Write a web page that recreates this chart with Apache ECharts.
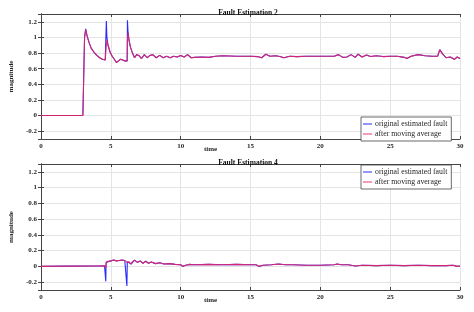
<!DOCTYPE html>
<html>
<head>
<meta charset="utf-8">
<script src="https://cdn.jsdelivr.net/npm/echarts@6/dist/echarts.min.js"></script>
<style>
  html, body { margin: 0; padding: 0; background: #fff; }
  #chart { width: 474px; height: 312px; }
</style>
</head>
<body>
<div id="chart"></div>
<script>
// ---- data ----
var xTicks = [0, 5, 10, 15, 20, 25, 30];

// Fault Estimation 2
var tTop = [0, 3.0, 3.05, 3.12, 3.2, 3.3, 3.45, 3.6, 3.8, 4.0, 4.2, 4.4, 4.6, 4.66, 4.68, 4.72, 4.8, 4.95, 5.1, 5.25,
  5.4, 5.55, 5.7, 5.85, 6.0, 6.1, 6.17, 6.19, 6.23, 6.3, 6.4, 6.55, 6.7, 6.85, 7.0, 7.2, 7.4, 7.6, 7.8, 8.0,
  8.25, 8.5, 8.75, 9.0, 9.25, 9.5, 9.75, 10.0, 10.25, 10.5, 10.75, 11.0, 11.5, 12.0, 12.5, 13.0, 14.0, 15.0, 15.5, 15.8,
  16.1, 16.4, 16.8, 17.1, 17.4, 17.8, 18.3, 19, 20, 21, 21.3, 21.6, 21.9, 22.2, 22.5, 22.7, 23.0, 23.3, 23.6, 24,
  24.5, 25, 25.5, 26.0, 26.2, 26.5, 27.0, 27.5, 28.0, 28.4, 28.55, 28.75, 29.0, 29.3, 29.6, 29.8, 30];
var avgTop = [0, 0, 0.02, 1.0, 1.1, 1.02, 0.93, 0.86, 0.81, 0.77, 0.74, 0.72, 0.71, 0.69, 0.9, 0.97, 0.9, 0.81, 0.76, 0.72,
  0.68, 0.7, 0.72, 0.71, 0.7, 0.72, 0.7, 0.95, 1.06, 0.97, 0.88, 0.8, 0.74, 0.78, 0.77, 0.73, 0.78, 0.74, 0.77, 0.78,
  0.74, 0.77, 0.74, 0.76, 0.74, 0.76, 0.75, 0.77, 0.75, 0.78, 0.74, 0.745, 0.75, 0.745, 0.76, 0.765, 0.76, 0.76, 0.755, 0.74,
  0.785, 0.76, 0.765, 0.755, 0.74, 0.76, 0.755, 0.76, 0.76, 0.76, 0.78, 0.745, 0.75, 0.78, 0.745, 0.785, 0.75, 0.775, 0.755, 0.765,
  0.755, 0.76, 0.76, 0.745, 0.73, 0.76, 0.78, 0.765, 0.76, 0.76, 0.84, 0.79, 0.74, 0.75, 0.72, 0.75, 0.73];
var origTop = [0, 0, 0.02, 1.0, 1.11, 1.02, 0.93, 0.86, 0.81, 0.77, 0.74, 0.72, 0.71, 0.7, 1.21, 1.0, 0.9, 0.81, 0.76, 0.72,
  0.68, 0.7, 0.72, 0.71, 0.7, 0.72, 0.7, 1.22, 1.08, 0.97, 0.88, 0.8, 0.74, 0.78, 0.77, 0.73, 0.78, 0.74, 0.77, 0.78,
  0.74, 0.77, 0.74, 0.76, 0.74, 0.76, 0.75, 0.77, 0.75, 0.78, 0.74, 0.745, 0.75, 0.745, 0.76, 0.765, 0.76, 0.76, 0.755, 0.74,
  0.785, 0.76, 0.765, 0.755, 0.74, 0.76, 0.755, 0.76, 0.76, 0.76, 0.78, 0.745, 0.75, 0.78, 0.745, 0.785, 0.75, 0.775, 0.755, 0.765,
  0.755, 0.76, 0.76, 0.745, 0.73, 0.76, 0.78, 0.765, 0.76, 0.76, 0.845, 0.79, 0.74, 0.75, 0.72, 0.75, 0.73];

// Fault Estimation 4
var tBot = [0, 2, 4, 4.55, 4.62, 4.64, 4.66, 4.7, 4.8, 5.0, 5.2, 5.4, 5.6, 5.8, 6.0, 6.1, 6.13, 6.15, 6.18, 6.3,
  6.45, 6.55, 6.7, 6.9, 7.1, 7.3, 7.5, 7.7, 7.9, 8.2, 8.5, 8.8, 9.2, 9.6, 10.0, 10.15, 10.3, 10.6, 11, 12,
  13, 14, 15, 15.4, 15.6, 15.9, 16.5, 17.0, 17.5, 18, 19, 20, 21, 21.2, 21.5, 22, 22.5, 23, 24, 25,
  26, 27, 28, 29, 29.5, 29.8, 30];
var avgBot = [0, 0.003, 0.005, 0.008, 0.0, -0.02, 0.03, 0.06, 0.06, 0.07, 0.08, 0.07, 0.075, 0.08, 0.075, 0.07, 0.06, 0.05, 0.07, 0.06,
  0.03, 0.06, 0.08, 0.05, 0.07, 0.04, 0.065, 0.04, 0.055, 0.035, 0.045, 0.03, 0.035, 0.025, 0.02, 0.0, 0.01, 0.025, 0.02, 0.025,
  0.02, 0.025, 0.02, 0.02, 0.0, 0.015, 0.02, 0.03, 0.02, 0.02, 0.015, 0.015, 0.02, 0.03, 0.02, 0.02, 0.005, 0.015, 0.01, 0.015,
  0.01, 0.015, 0.01, 0.01, 0.015, 0.0, 0.005];
var origBot = [0, 0.003, 0.005, 0.008, 0.0, -0.19, 0.05, 0.06, 0.06, 0.07, 0.08, 0.07, 0.075, 0.08, 0.075, 0.07, 0.06, -0.25, 0.06, 0.06,
  0.03, 0.01, 0.08, 0.05, 0.07, 0.04, 0.065, 0.04, 0.055, 0.035, 0.045, 0.03, 0.035, 0.025, 0.02, 0.0, 0.01, 0.025, 0.02, 0.025,
  0.02, 0.025, 0.02, 0.02, 0.0, 0.015, 0.02, 0.03, 0.02, 0.02, 0.015, 0.015, 0.02, 0.03, 0.02, 0.02, 0.005, 0.015, 0.01, 0.015,
  0.01, 0.015, 0.01, 0.01, 0.015, 0.0, 0.005];

var titles = ['Fault Estimation 2', 'Fault Estimation 4'];
var seriesNames = ['original estimated fault', 'after moving average'];

function zip(t, v) {
  return t.map(function (x, i) { return [x, v[i]]; });
}

var chart = echarts.init(document.getElementById('chart'));
var serif = 'Liberation Serif';
var txt = '#262626';
var blue = '#2a2aff';
var red = 'rgba(228,36,96,0.9)';

var grids = [
  { left: 27, right: 14, top: 14, height: 125 },
  { left: 27, right: 14, top: 164, height: 126 }
];

var xAxes = [], yAxes = [];
grids.forEach(function (g, i) {
  // main axes
  xAxes.push({
    type: 'value', gridIndex: i, min: 0, max: 30, interval: 5,
    axisLine: { show: true, onZero: false, lineStyle: { color: '#444', width: 1 } },
    axisTick: { inside: true, length: 3, lineStyle: { color: '#444' } },
    axisLabel: { color: txt, fontFamily: serif, fontWeight: 'bold', fontSize: 7, margin: 4 },
    splitLine: { show: true, lineStyle: { color: '#e4e4e4', width: 1 } }
  });
  yAxes.push({
    type: 'value', gridIndex: i, min: -0.3, max: 1.3, splitNumber: 8,
    name: 'magnitude', nameLocation: 'middle', nameGap: 16,
    nameTextStyle: { color: txt, fontFamily: serif, fontWeight: 'bold', fontSize: 7 },
    axisLine: { show: true, lineStyle: { color: '#444', width: 1 } },
    axisTick: { inside: true, length: 3, lineStyle: { color: '#444' } },
    axisLabel: { color: txt, fontFamily: serif, fontWeight: 'bold', fontSize: 7, margin: 4,
      showMinLabel: false, showMaxLabel: false },
    splitLine: { show: true, lineStyle: { color: '#e4e4e4', width: 1 } }
  });
  // box on top / right
  xAxes.push({
    type: 'value', gridIndex: i, position: 'top', min: 0, max: 30, interval: 5,
    axisLine: { show: true, onZero: false, lineStyle: { color: '#444', width: 1 } },
    axisTick: { inside: true, length: 3, lineStyle: { color: '#444' } },
    axisLabel: { show: false }, splitLine: { show: false }
  });
  yAxes.push({
    type: 'value', gridIndex: i, position: 'right', min: -0.3, max: 1.3, splitNumber: 8,
    axisLine: { show: true, lineStyle: { color: '#444', width: 1 } },
    axisTick: { inside: true, length: 3, lineStyle: { color: '#444' } },
    axisLabel: { show: false }, splitLine: { show: false }
  });
});

var lineBase = { type: 'line', showSymbol: false, symbol: 'none', animation: false };
var series = [
  Object.assign({}, lineBase, { name: seriesNames[0], xAxisIndex: 0, yAxisIndex: 0, data: zip(tTop, origTop),
    lineStyle: { color: blue, width: 1.1 }, itemStyle: { color: blue } }),
  Object.assign({}, lineBase, { name: seriesNames[1], xAxisIndex: 0, yAxisIndex: 0, data: zip(tTop, avgTop),
    lineStyle: { color: red, width: 1.1 }, itemStyle: { color: red } }),
  Object.assign({}, lineBase, { name: seriesNames[0], xAxisIndex: 2, yAxisIndex: 2, data: zip(tBot, origBot),
    lineStyle: { color: blue, width: 1.1 }, itemStyle: { color: blue } }),
  Object.assign({}, lineBase, { name: seriesNames[1], xAxisIndex: 2, yAxisIndex: 2, data: zip(tBot, avgBot),
    lineStyle: { color: red, width: 1.1 }, itemStyle: { color: red } })
];

function legendAt(top) {
  return {
    data: seriesNames, orient: 'vertical', left: 361, top: top,
    icon: 'rect', itemWidth: 9, itemHeight: 1, itemGap: 2,
    padding: [3, 4, 3, 2], borderColor: '#444', borderWidth: 0.8, backgroundColor: '#fff',
    textStyle: { color: txt, fontFamily: serif, fontSize: 7.8, padding: [0, 0, 0, -2] },
    selectedMode: false
  };
}

var option = {
  backgroundColor: '#fff',
  animation: false,
  title: [
    { text: titles[0], left: 243, top: 4, textAlign: 'center',
      textStyle: { fontFamily: serif, fontWeight: 'bold', fontSize: 7.5, color: '#111' } },
    { text: titles[1], left: 243, top: 154, textAlign: 'center',
      textStyle: { fontFamily: serif, fontWeight: 'bold', fontSize: 7.5, color: '#111' } }
  ],
  legend: [legendAt(117), legendAt(165)],
  grid: grids,
  xAxis: xAxes,
  yAxis: yAxes,
  graphic: [
    { type: 'text', left: 204, top: 146, style: { text: 'time', fontFamily: serif, fontWeight: 'bold', fontSize: 7, fill: txt } },
    { type: 'text', left: 204, top: 297, style: { text: 'time', fontFamily: serif, fontWeight: 'bold', fontSize: 7, fill: txt } }
  ],
  series: series
};

chart.setOption(option);
window.addEventListener('resize', function () { chart.resize(); });
</script>
</body>
</html>
